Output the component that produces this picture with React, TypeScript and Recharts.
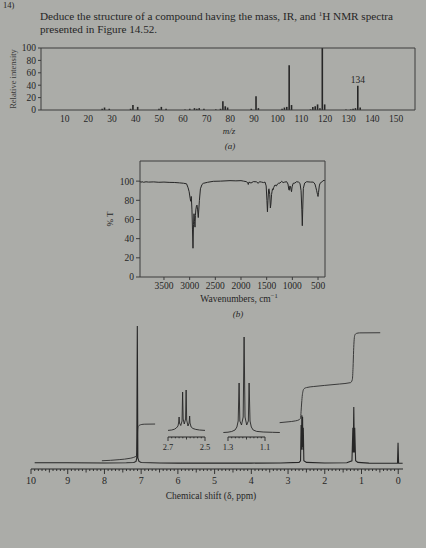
import React from 'react';
import { BarChart, Bar, LineChart, Line, XAxis, YAxis, ReferenceLine, LabelList } from 'recharts';

const INK = '#262626';
const FRAME = '#3c3c3c';
const BG = '#abaca8';
const FONT = '"Liberation Serif", "DejaVu Serif", serif';

// (a) mass spectrum
const msMz = [26, 27, 29, 38, 39, 41, 50, 51, 53, 61, 63, 65, 66, 67, 69, 74, 76, 77, 78, 79, 89, 91, 92, 102, 103, 104, 105, 106, 114, 115, 116, 117, 118, 119, 120, 129, 131, 132, 133, 134, 135];
const msIntensity = [2, 4, 2, 2, 8, 5, 2, 5, 2, 1, 2, 3, 2, 3, 2, 1, 2, 14, 6, 4, 2, 22, 3, 2, 4, 5, 72, 8, 1, 5, 6, 9, 3, 100, 9, 1, 1, 2, 3, 39, 4];
const msLabelled = 134;
const msXTicks = [10, 20, 30, 40, 50, 60, 70, 80, 90, 100, 110, 120, 130, 140, 150];
const msYTicks = [0, 20, 40, 60, 80, 100];

// (b) IR spectrum
const irWavenumber = [3967, 3950, 3930, 3900, 3850, 3800, 3700, 3600, 3500, 3400, 3300, 3200, 3120, 3060, 3030, 3010, 2990, 2980, 2968, 2955, 2945, 2935, 2925, 2915, 2905, 2896, 2888, 2880, 2868, 2857, 2845, 2832, 2820, 2810, 2790, 2760, 2734, 2650, 2540, 2400, 2214, 2100, 2000, 1950, 1900, 1870, 1858, 1845, 1805, 1760, 1700, 1664, 1640, 1600, 1560, 1532, 1510, 1495, 1485, 1475, 1462, 1455, 1440, 1428, 1418, 1405, 1396, 1385, 1375, 1362, 1338, 1310, 1290, 1273, 1240, 1208, 1180, 1150, 1110, 1085, 1068, 1060, 1048, 1035, 1025, 1016, 1005, 984, 950, 919, 880, 851, 830, 815, 806, 798, 786, 760, 721, 650, 592, 560, 540, 526, 510, 500, 490, 475, 461, 420, 383, 370];
const irTransmittance = [100, 98.5, 99.5, 98.8, 99.3, 99, 99.2, 98.8, 99, 98.7, 98.6, 98.2, 97.8, 97.2, 93, 89, 82, 79, 84, 70, 50, 30, 55, 66, 58, 52, 64, 70, 74, 75, 70, 62, 72, 80, 92, 96.5, 97.7, 98.8, 99.8, 100, 100.5, 100.3, 100.5, 100, 99.5, 98.5, 96.5, 99, 98, 99.5, 99.3, 97.7, 99.4, 99, 98.5, 99, 95, 80, 68, 80, 91, 92, 86, 72, 76, 86, 89, 92, 91, 93.5, 96, 95, 97, 97.7, 98, 99.8, 98.5, 99, 99.4, 97, 91, 90.5, 95, 94, 91, 89, 94, 97.7, 98, 99.4, 99, 97.7, 90, 70, 53.5, 70, 92.5, 98, 99.4, 99, 99, 97, 93, 90, 86, 84, 88, 95, 97.7, 99.5, 101, 100.5];
const irXTicks = [3500, 3000, 2500, 2000, 1500, 1000, 500];
const irYTicks = [0, 20, 40, 60, 80, 100];

// (c) 1H NMR spectrum
const nmrPpm = [9.9, 9.0, 8.0, 7.4, 7.2, 7.14, 7.12, 7.105, 7.09, 7.06, 7.0, 6.5, 6.0, 5.0, 4.0, 3.2, 2.7, 2.66, 2.645, 2.635, 2.625, 2.615, 2.605, 2.595, 2.585, 2.57, 2.5, 2.0, 1.4, 1.26, 1.235, 1.225, 1.21, 1.195, 1.185, 1.16, 1.1, 0.8, 0.3, 0.02, 0.005, -0.01, -0.12];
const nmrSignal = [0.6, 0.5, 0.4, 0.5, 0.7, 1.5, 4, 100, 4, 1.5, 0.7, 0.4, 0.3, 0.3, 0.3, 0.4, 0.8, 2, 28, 10, 35, 12, 34, 10, 26, 2, 0.8, 0.4, 0.5, 2, 26, 8, 41, 8, 26, 2, 0.8, 0.3, 0.2, 0.2, 15, 0.2, 0.2];
const integral1Ppm = [8.07, 7.6, 7.3, 7.2, 7.13, 7.115, 7.105, 7.095, 7.08, 7.0, 6.9, 6.62];
const integral1Value = [2, 2.8, 3.8, 4.5, 5.5, 8, 16, 25, 27, 28.3, 28.6, 28.7];
const integral2Ppm = [3.23, 3.0, 2.8, 2.7, 2.66, 2.645, 2.63, 2.61, 2.59, 2.56, 2.5, 2.3, 2.0, 1.6, 1.3, 1.25, 1.23, 1.215, 1.2, 1.18, 1.14, 1.05, 0.49];
const integral2Value = [29.7, 30.3, 31, 31.8, 33, 38, 44, 50, 53, 54.5, 55.2, 56, 56.8, 57.8, 58.8, 61, 70, 82, 90, 93.5, 94.6, 95, 95.1];
const nmrTicks = Array.from({ length: 101 }, (_, i) => Math.round((10 - i * 0.1) * 10) / 10);

// expansions
const quartetPpm = [2.7, 2.68, 2.665, 2.655, 2.646, 2.642, 2.64, 2.638, 2.631, 2.624, 2.621, 2.618, 2.612, 2.605, 2.602, 2.599, 2.592, 2.586, 2.583, 2.581, 2.575, 2.565, 2.55, 2.53, 2.5];
const quartetValue = [0.6, 1, 1.8, 3, 5, 9, 14, 8, 5.5, 10, 39, 12, 7, 12, 41, 11, 5, 8, 15, 8, 4, 2.5, 1.6, 1, 0.6];
const quartetTicks = [2.7, 2.68, 2.66, 2.64, 2.62, 2.6, 2.58, 2.56, 2.54, 2.52, 2.5];
const tripletPpm = [1.325, 1.3, 1.28, 1.262, 1.252, 1.245, 1.24, 1.236, 1.227, 1.218, 1.213, 1.208, 1.199, 1.19, 1.186, 1.181, 1.174, 1.164, 1.145, 1.11, 1.06, 1.02];
const tripletValue = [0.5, 0.8, 1.5, 3, 6, 12, 50, 12, 8, 16, 96, 16, 8, 12, 50, 12, 6, 3, 1.6, 1, 0.7, 0.5];
const tripletTicks = [1.3, 1.28, 1.26, 1.24, 1.22, 1.2, 1.18, 1.16, 1.14, 1.12, 1.1];

const msData = msMz.map((mz, i) => ({ mz, intensity: msIntensity[i], label: mz === msLabelled ? String(mz) : undefined }));
const irData = irWavenumber.map((wn, i) => ({ wn, t: irTransmittance[i] }));
const nmrData = nmrPpm.map((ppm, i) => ({ ppm, v: nmrSignal[i] }));
const int1Data = integral1Ppm.map((ppm, i) => ({ ppm, v: integral1Value[i] }));
const int2Data = integral2Ppm.map((ppm, i) => ({ ppm, v: integral2Value[i] }));
const quartetData = quartetPpm.map((ppm, i) => ({ ppm, v: quartetValue[i] }));
const tripletData = tripletPpm.map((ppm, i) => ({ ppm, v: tripletValue[i] }));

const tickText = { fill: INK, fontSize: 9.5, fontFamily: FONT };

function NmrTick(props: any) {
  const { x, y, payload } = props;
  const v = payload.value;
  const major = Math.abs(v - Math.round(v)) < 1e-6;
  const half = !major && Math.abs(v * 2 - Math.round(v * 2)) < 1e-6;
  const len = major ? 5 : half ? 3.5 : 2;
  return (
    <g>
      <line x1={x} x2={x} y1={y} y2={y + len} stroke={INK} strokeWidth={0.9} />
      {major && (
        <text x={x} y={y + 15} textAnchor="middle" fontSize={10} fill={INK} fontFamily={FONT}>
          {Math.round(v)}
        </text>
      )}
    </g>
  );
}

function makeBracketTick(first: number, last: number) {
  return function BracketTick(props: any) {
    const { x, y, payload } = props;
    const v = payload.value;
    const end = Math.abs(v - first) < 1e-6 || Math.abs(v - last) < 1e-6;
    const mid = Math.abs(v - (first + last) / 2) < 1e-6;
    const len = end ? 4 : mid ? 2.5 : 1.3;
    return (
      <g>
        <line x1={x} x2={x} y1={y} y2={y + len} stroke={INK} strokeWidth={0.9} />
        {end && (
          <text x={x} y={y + 13} textAnchor="middle" fontSize={8.5} fill={INK} fontFamily={FONT}>
            {v.toFixed(1)}
          </text>
        )}
      </g>
    );
  };
}
const QuartetTick = makeBracketTick(2.7, 2.5);
const TripletTick = makeBracketTick(1.3, 1.1);

function MassSpectrum() {
  return (
    <BarChart width={426} height={130} data={msData} margin={{ top: 48, right: 11, left: 11, bottom: 0 }}>
      <XAxis dataKey="mz" type="number" domain={[0, 158]} ticks={msXTicks} interval={0} height={20}
        tickLine={false} tickSize={0} axisLine={{ stroke: FRAME }} tick={tickText} tickMargin={5} />
      <YAxis type="number" domain={[0, 100]} ticks={msYTicks} interval={0} width={30}
        tickSize={3} tickLine={{ stroke: FRAME }} axisLine={{ stroke: FRAME }} tick={tickText} tickMargin={2} />
      <ReferenceLine y={100} stroke={FRAME} />
      <ReferenceLine x={158} stroke={FRAME} />
      <Bar dataKey="intensity" fill={INK} barSize={1.6} isAnimationActive={false}>
        <LabelList dataKey="label" position="top" offset={3} fill={INK} fontSize={9.5} fontFamily={FONT} />
      </Bar>
    </BarChart>
  );
}

function IrSpectrum() {
  return (
    <LineChart width={426} height={143} data={irData} margin={{ top: 11, right: 101, left: 110, bottom: 0 }}>
      <XAxis dataKey="wn" type="number" domain={[364, 3967]} reversed ticks={irXTicks} interval={0} height={16}
        tickSize={3} tickLine={{ stroke: FRAME }} axisLine={{ stroke: FRAME }} tick={tickText} tickMargin={2} />
      <YAxis type="number" domain={[0, 121]} ticks={irYTicks} interval={0} width={30}
        tickSize={4} tickLine={{ stroke: FRAME }} axisLine={{ stroke: FRAME }} tick={tickText} tickMargin={2} />
      <ReferenceLine y={121} stroke={FRAME} />
      <ReferenceLine x={364} stroke={FRAME} />
      <Line dataKey="t" type="linear" stroke={INK} strokeWidth={1} dot={false} isAnimationActive={false} />
    </LineChart>
  );
}

function NmrSpectrum() {
  return (
    <LineChart width={426} height={190} margin={{ top: 26, right: 23, left: 31, bottom: 0 }}>
      <XAxis dataKey="ppm" type="number" domain={[-0.13, 10]} reversed ticks={nmrTicks} interval={0} height={21}
        tickSize={0} tickMargin={0} axisLine={{ stroke: INK, strokeWidth: 1.2 }} tick={<NmrTick />} />
      <YAxis type="number" domain={[-4, 100]} hide />
      <Line data={int1Data} dataKey="v" type="monotone" stroke="#3a3a3a" strokeWidth={1} dot={false} isAnimationActive={false} />
      <Line data={int2Data} dataKey="v" type="monotone" stroke="#3a3a3a" strokeWidth={1} dot={false} isAnimationActive={false} />
      <Line data={nmrData} dataKey="v" type="linear" stroke={INK} strokeWidth={1.1} dot={false} isAnimationActive={false} />
    </LineChart>
  );
}

function QuartetInset() {
  return (
    <LineChart width={80} height={83} data={quartetData} margin={{ top: 11, right: 25, left: 18, bottom: 0 }}>
      <XAxis dataKey="ppm" type="number" domain={[2.5, 2.7]} reversed ticks={quartetTicks} interval={0} height={16}
        tickSize={0} tickMargin={0} axisLine={false} tick={<QuartetTick />} />
      <YAxis type="number" domain={[-6, 50]} hide />
      <ReferenceLine segment={[{ x: 2.7, y: -6 }, { x: 2.5, y: -6 }]} stroke={INK} />
      <Line dataKey="v" type="linear" stroke={INK} strokeWidth={0.9} dot={false} isAnimationActive={false} />
    </LineChart>
  );
}

function TripletInset() {
  return (
    <LineChart width={100} height={133} data={tripletData} margin={{ top: 13, right: 20, left: 23, bottom: 0 }}>
      <XAxis dataKey="ppm" type="number" domain={[1.019, 1.327]} reversed ticks={tripletTicks} interval={0} height={16}
        tickSize={0} tickMargin={0} axisLine={false} tick={<TripletTick />} />
      <YAxis type="number" domain={[-4, 100]} hide />
      <ReferenceLine segment={[{ x: 1.3, y: -4 }, { x: 1.1, y: -4 }]} stroke={INK} />
      <Line dataKey="v" type="linear" stroke={INK} strokeWidth={0.9} dot={false} isAnimationActive={false} />
    </LineChart>
  );
}

export default function App() {
  const txt = { fill: INK, fontFamily: FONT };
  return (
    <div style={{ position: 'absolute', left: 0, top: 0, width: 426, height: 548, background: BG, overflow: 'hidden' }}>
      <div style={{ position: 'absolute', left: 0, top: 0 }}><MassSpectrum /></div>
      <div style={{ position: 'absolute', left: 0, top: 150 }}><IrSpectrum /></div>
      <div style={{ position: 'absolute', left: 0, top: 300 }}><NmrSpectrum /></div>
      <div style={{ position: 'absolute', left: 150, top: 370 }}><QuartetInset /></div>
      <div style={{ position: 'absolute', left: 200, top: 320 }}><TripletInset /></div>
      <svg width={426} height={548} style={{ position: 'absolute', left: 0, top: 0, pointerEvents: 'none' }}>
        <text x={3} y={8} fontSize={8.5} {...txt}>14)</text>
        <text x={40} y={20} fontSize={11.2} {...txt}>
          Deduce the structure of a compound having the mass, IR, and <tspan dy={-4} fontSize={7}>1</tspan><tspan dy={4}>H NMR spectra</tspan>
        </text>
        <text x={40} y={33} fontSize={11.2} {...txt}>presented in Figure 14.52.</text>
        <text x={14} y={79} fontSize={8.5} textAnchor="middle" dominantBaseline="middle" transform="rotate(-90 14 79)" fill="#3a3a3a" fontFamily={FONT}>Relative intensity</text>
        <text x={229} y={134} fontSize={9} textAnchor="middle" fontStyle="italic" {...txt}>m/z</text>
        <text x={230} y={149} fontSize={9} textAnchor="middle" fontStyle="italic" {...txt}>(a)</text>
        <text x={111} y={219} fontSize={9} textAnchor="middle" dominantBaseline="middle" transform="rotate(-90 111 219)" {...txt}>% T</text>
        <text x={239} y={302} fontSize={9.5} textAnchor="middle" {...txt}>
          Wavenumbers, cm<tspan dy={-4} fontSize={6.5}>−1</tspan>
        </text>
        <text x={238} y={317} fontSize={9} textAnchor="middle" fontStyle="italic" {...txt}>(b)</text>
        <text x={211} y={499} fontSize={9.5} textAnchor="middle" {...txt}>Chemical shift (δ, ppm)</text>
      </svg>
    </div>
  );
}
